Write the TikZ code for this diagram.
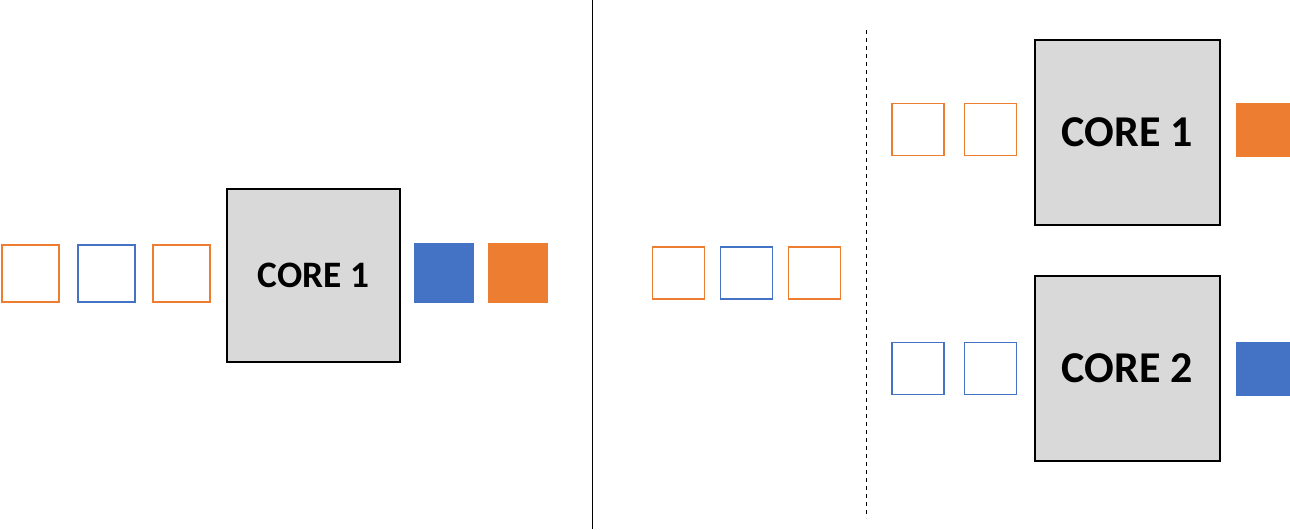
\documentclass[tikz,border=0pt]{standalone}
\usepackage{fontspec}
\setmainfont{Carlito}
\usetikzlibrary{positioning}
\definecolor{corange}{HTML}{ED7D31}
\definecolor{cblue}{HTML}{4472C4}
\definecolor{cgray}{HTML}{D9D9D9}

\begin{document}
\begin{tikzpicture}[x=0.75pt,y=-0.75pt,
    core/.style={draw=black, line width=1pt, fill=cgray, minimum size=#1*0.75pt, inner sep=0pt},
    pkt/.style={draw=#1, line width=1pt, minimum size=57*0.75pt, inner sep=0pt},
    spkt/.style={draw=#1, line width=1pt, minimum size=52*0.75pt, inner sep=0pt},
    full/.style={fill=#1, minimum size=60*0.75pt, inner sep=0pt},
    sfull/.style={fill=#1, minimum size=54*0.75pt, inner sep=0pt}]
    \useasboundingbox (0,0) rectangle (1290,529);
    % left side
    \node[core=173, font=\bfseries\fontsize{28}{32}\selectfont] (lcore) at (313.5,275.5) {CORE 1};
    \node[pkt=corange] (l1) at (30.5,273.5) {};
    \node[pkt=cblue] (l2) at (106.5,273.5) {};
    \node[pkt=corange] (l3) at (181.5,273.5) {};
    \node[full=cblue] (lo1) at (444,273) {};
    \node[full=corange] (lo2) at (518,273) {};
    \draw (592,0) -- (592,529);
    % right side
    \node[spkt=corange] (r1) at (678.5,273) {};
    \node[spkt=cblue] (r2) at (746.5,273) {};
    \node[spkt=corange] (r3) at (814.5,273) {};
    \draw[dashed] (866,30) -- (866,518);
    \node[core=185, font=\bfseries\fontsize{33}{38}\selectfont] (core1) at (1127.5,132.5) {CORE 1};
    \node[core=185, font=\bfseries\fontsize{33}{38}\selectfont] (core2) at (1127.5,368.5) {CORE 2};
    \node[spkt=corange] (a1) at (918,129.5) {};
    \node[spkt=corange] (a2) at (990.5,129.5) {};
    \node[sfull=corange] (ao) at (1263,129.5) {};
    \node[spkt=cblue] (b1) at (918,368.5) {};
    \node[spkt=cblue] (b2) at (990.5,368.5) {};
    \node[sfull=cblue] (bo) at (1263,368.5) {};
\end{tikzpicture}
\end{document}
